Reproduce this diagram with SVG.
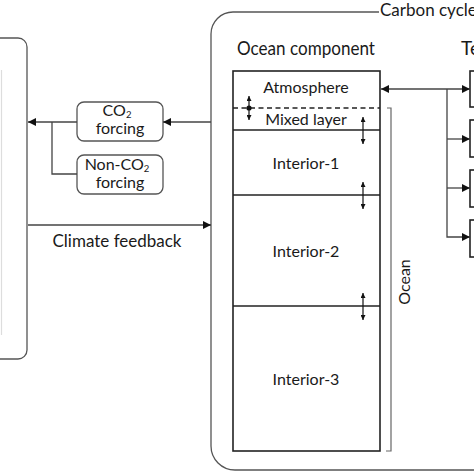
<svg xmlns="http://www.w3.org/2000/svg" width="474" height="474" viewBox="0 0 474 474">
<style>
text{font-family:Lato,"Liberation Sans",sans-serif;font-size:16px;fill:#1a1a1a}
.c{text-anchor:middle}
.title{font-size:19px}
.big{font-size:17px}
.frame{fill:none;stroke:#555;stroke-width:1.3}
.box{fill:#fff;stroke:#222;stroke-width:1.6}
.layer{fill:none;stroke:#222;stroke-width:1.5}
.con{fill:none;stroke:#444;stroke-width:1.3}
.dbl{fill:none;stroke:#111;stroke-width:1.2}
.sub{font-size:9.5px}
</style>
<defs>
<marker id="ah" viewBox="0 0 10 10" refX="10" refY="5" markerWidth="9" markerHeight="8" markerUnits="userSpaceOnUse" orient="auto-start-reverse">
<path d="M0,0 L10,5 L0,10 Z" fill="#111"/>
</marker>
<marker id="sh" viewBox="0 0 10 10" refX="10" refY="5" markerWidth="5" markerHeight="5" markerUnits="userSpaceOnUse" orient="auto-start-reverse">
<path d="M0,0 L10,5 L0,10 Z" fill="#111"/>
</marker>
</defs>

<g id="climate-model">
<rect x="-20" y="38" width="47" height="321" rx="9" class="frame"/>
<line x1="1.5" y1="70" x2="1.5" y2="335" stroke="#ddd" stroke-width="1.2"/>
</g>

<g id="carbon-cycle">
<path d="M379,12 H233 A22,22 0 0 0 211,34 V446 A24,24 0 0 0 235,470 H480" class="frame"/>
<text x="380" y="16" class="big">Carbon cycle</text>
</g>

<g id="ocean-component">
<text x="237" y="55" class="title" textLength="138" lengthAdjust="spacingAndGlyphs">Ocean component</text>
<rect x="233" y="71" width="147" height="380" class="box"/>
<line x1="233" y1="108" x2="380" y2="108" stroke="#222" stroke-width="1.5" stroke-dasharray="5,3.5"/>
<line x1="233" y1="130" x2="380" y2="130" class="layer"/>
<line x1="233" y1="195" x2="380" y2="195" class="layer"/>
<line x1="233" y1="306" x2="380" y2="306" class="layer"/>
</g>
<g id="atmosphere"><text x="306" y="93" class="c">Atmosphere</text></g>
<g id="mixed-layer"><text x="306" y="125" class="c">Mixed layer</text></g>
<g id="interior-1"><text x="306" y="169" class="c">Interior-1</text></g>
<g id="interior-2"><text x="306" y="257" class="c">Interior-2</text></g>
<g id="interior-3"><text x="306" y="385" class="c">Interior-3</text></g>

<g id="ocean-bracket">
<path d="M387,108 H391 V451 H386" fill="none" stroke="#666" stroke-width="1.2"/>
<text transform="translate(410,282) rotate(-90)" class="c">Ocean</text>
</g>

<g id="terrestrial-component">
<text x="461" y="55" class="title">Te</text>
<rect x="470" y="71" width="30" height="36" class="box"/>
<rect x="470" y="120" width="30" height="37" class="box"/>
<rect x="470" y="170" width="30" height="37" class="box"/>
<rect x="470" y="220" width="30" height="37" class="box"/>
</g>

<g id="co2-forcing">
<rect x="77" y="102" width="86" height="39" rx="7" class="frame"/>
<text x="117" y="116" class="c">CO<tspan class="sub" dy="2">2</tspan></text>
<text x="120" y="134" class="c">forcing</text>
</g>

<g id="non-co2-forcing">
<rect x="77" y="155" width="86" height="39" rx="7" class="frame"/>
<text x="117" y="170" class="c">Non-CO<tspan class="sub" dy="2">2</tspan></text>
<text x="120" y="188" class="c">forcing</text>
</g>

<g id="connectors">
<line x1="211" y1="122" x2="163" y2="122" class="con" marker-end="url(#ah)"/>
<line x1="77" y1="122" x2="28" y2="122" class="con" marker-end="url(#ah)"/>
<path d="M52,122 V174 H77" class="con"/>
<line x1="28" y1="225" x2="211" y2="225" class="con" marker-end="url(#ah)"/>
<text x="117" y="247" class="c big">Climate feedback</text>
<line x1="381" y1="89" x2="470" y2="89" class="con" marker-start="url(#ah)" marker-end="url(#ah)"/>
<path d="M447,89 V237 H470" class="con" marker-end="url(#ah)"/>
<line x1="447" y1="139" x2="470" y2="139" class="con" marker-end="url(#ah)"/>
<line x1="447" y1="188" x2="470" y2="188" class="con" marker-end="url(#ah)"/>
<line x1="249" y1="96" x2="249" y2="120" class="dbl" marker-start="url(#sh)" marker-end="url(#sh)"/>
<circle cx="249" cy="108" r="2.6" fill="#111"/>
<line x1="363" y1="117" x2="363" y2="144" class="dbl" marker-start="url(#sh)" marker-end="url(#sh)"/>
<line x1="363" y1="182" x2="363" y2="209" class="dbl" marker-start="url(#sh)" marker-end="url(#sh)"/>
<line x1="363" y1="293" x2="363" y2="320" class="dbl" marker-start="url(#sh)" marker-end="url(#sh)"/>
</g>
</svg>
